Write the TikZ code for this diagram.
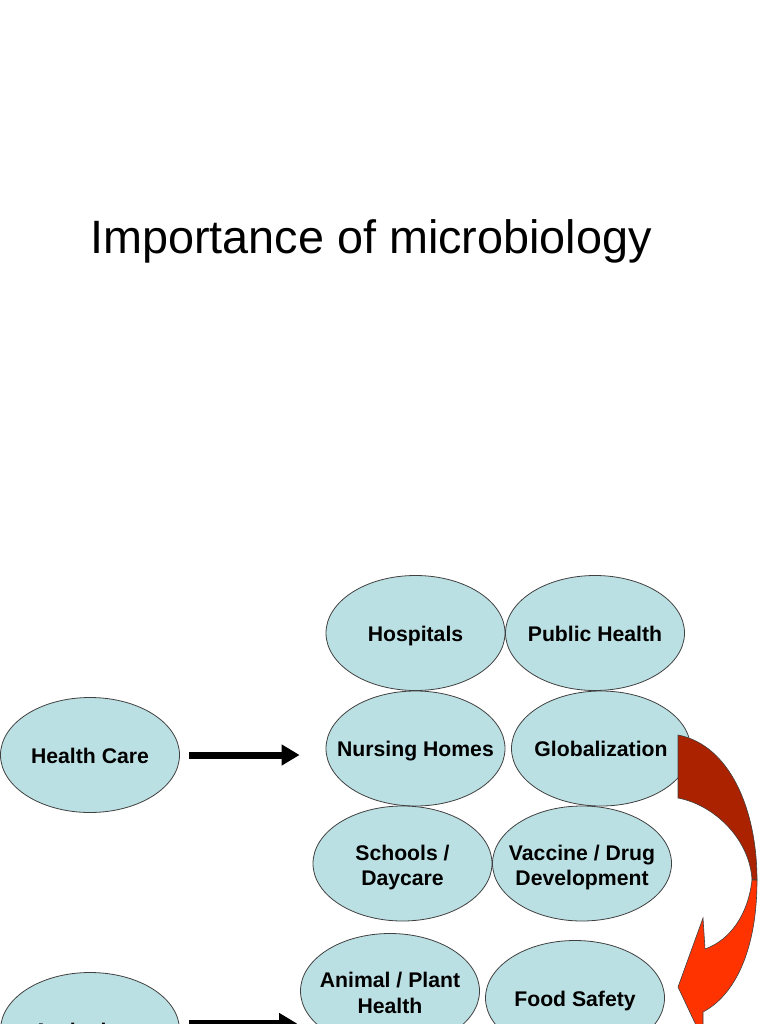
\documentclass[tikz,border=0pt]{standalone}
\usepackage{fontspec}
\setmainfont{Liberation Sans}
\usetikzlibrary{shapes.geometric,arrows.meta}
\definecolor{white}{RGB}{255,255,255}
\definecolor{black}{RGB}{0,0,0}
\definecolor{pale_blue}{RGB}{187,224,227}
\definecolor{rim_grey}{RGB}{64,64,64}
\definecolor{rust_red}{RGB}{170,34,0}
\definecolor{flame_red}{RGB}{255,51,0}

\begin{document}
\begin{tikzpicture}[x=1pt,y=-1pt,
	bubble/.style={ellipse,draw=rim_grey,fill=pale_blue,line width=0.8pt,minimum width=179pt,minimum height=115pt,inner sep=0pt},
	word/.style={font=\bfseries\fontsize{21.2}{25.5}\selectfont,align=center,inner sep=0pt,text height=19.2pt,text depth=4.5pt,yshift=-1pt},
	pair/.style={word,yshift=-14pt},
	push/.style={black,line width=7pt,-{Triangle[length=18pt,width=20pt]}}]
	\useasboundingbox (0,0) rectangle (768,1024);
	\clip (0,0) rectangle (768,1024);
	\fill[white] (0,0) rectangle (768,1024);
	\node[font=\fontsize{46.8}{56}\selectfont] (title) at (371,241) {Importance of microbiology};

	\node[bubble,label={[word]center:Health Care}] (care) at (90,755) {};
	\node[bubble,label={[word]center:Agriculture}] (agri) at (90,1030) {};
	\node[bubble,label={[word]center:Hospitals}] (hosp) at (415.5,633) {};
	\node[bubble,label={[word]center:Public Health}] (pub) at (595,633) {};
	\node[bubble,label={[word]center:Nursing Homes}] (nurse) at (415.5,748.5) {};
	\node[bubble,label={[word]center:Globalization}] (glob) at (601,748.5) {};
	\node[bubble,label={[pair]center:{Schools /\\Daycare}}] (school) at (402.5,863.5) {};
	\node[bubble,label={[pair]center:{Vaccine / Drug\\Development}}] (vaccine) at (582,863.5) {};
	\node[bubble,label={[pair]center:{Animal / Plant\\Health}}] (animal) at (390,991) {};
	\node[bubble,label={[word]center:Food Safety}] (food) at (575,998) {};

	\draw[push,shorten <=9.5pt,shorten >=26pt] (care.east) -- (care.east -| nurse.west);
	\draw[push,shorten <=9.5pt,shorten >=3pt] ([yshift=6.5pt]agri.east) -- ([yshift=6.5pt]agri.east -| animal.west);

	% curved arrow from globalization down to food safety
	\filldraw[fill=rust_red,draw=rim_grey,line width=0.6pt] (678,735) .. controls (730,745) and (757,810) .. (757,880)
		-- (752,880) .. controls (750,840) and (715,805) .. (678,798) -- cycle;
	\filldraw[fill=flame_red,draw=rim_grey,line width=0.6pt] (757,880) .. controls (757,950) and (735,995) .. (703,1012)
		-- (703,1040) -- (678,987) -- (703,918) -- (705,949) .. controls (730,940) and (748,915) .. (752,880) -- cycle;
\end{tikzpicture}
\end{document}
